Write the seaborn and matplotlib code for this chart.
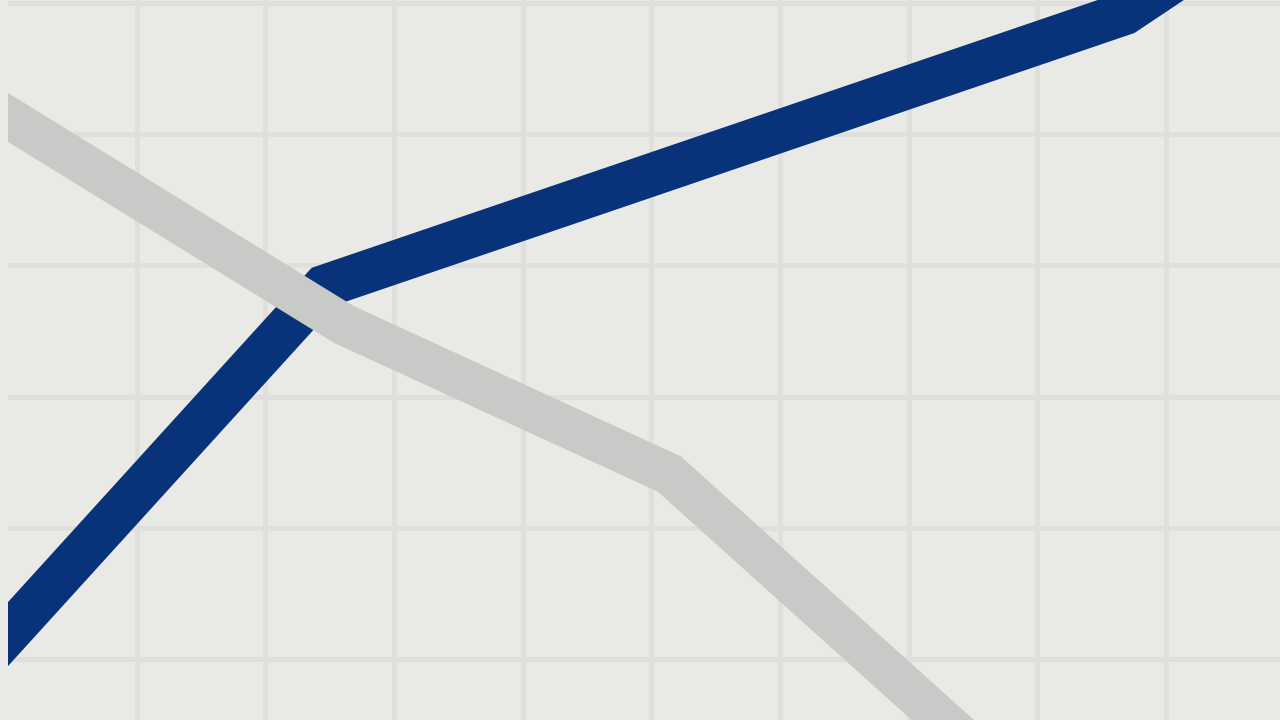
# Two thick trend lines on a plain grid, no labels
import numpy as np
import pandas as pd
import matplotlib
matplotlib.use("Agg")
import matplotlib.pyplot as plt
import matplotlib.patheffects as pe
import seaborn as sns

# Data (x in grid steps, y in units of 10 per grid row)
blue_x = [-0.5, 2.455, 8.68, 10.5]
blue_y = [-3.5, 28.4, 49.2, 61.1]
gray_x = [-0.5, 2.61, 5.14, 7.26, 8.0]
gray_y = [44.3, 25.5, 14.1, -4.6, -11.1]
x_ticks = list(range(1, 10))
y_ticks = [0, 10, 20, 30, 40, 50]

blue_df = pd.DataFrame({"x": blue_x, "y": blue_y})
gray_df = pd.DataFrame({"x": gray_x, "y": gray_y})


# agg cuts stroked lines at the canvas edge before stroking, which leaves
# a slanted butt end showing; passing an invisible face skips that cut
class NoEdgeCut(pe.AbstractPathEffect):
    def draw_path(self, renderer, gc, tpath, affine, rgbFace=None):
        renderer.draw_path(gc, tpath, affine, (0, 0, 0, 0.001))


sns.set_theme(style="whitegrid")
fig = plt.figure(figsize=(12.8, 7.2), dpi=100)
fig.patch.set_facecolor("#e9e9e5")
ax = fig.add_axes([8 / 1280, 0, 1 - 8 / 1280, 1])
ax.set_facecolor("#e9e9e5")

line_kw = dict(solid_joinstyle="miter", solid_capstyle="butt", sort=False)
sns.lineplot(data=blue_df, x="x", y="y", color="#08337a", linewidth=31, ax=ax, **line_kw)
sns.lineplot(data=gray_df, x="x", y="y", color="#c8cac8", linewidth=30, ax=ax, **line_kw)
for line in ax.lines:
    line.set_path_effects([NoEdgeCut()])

# Grid and limits
ax.set_xticks(x_ticks)
ax.set_yticks(y_ticks)
ax.set_xlim(0, 9.886)
ax.set_ylim(-4.65, 50.23)
ax.grid(True, color="#dfe0dd", linewidth=3.5)
ax.set_axisbelow(True)
ax.tick_params(left=False, bottom=False, labelleft=False, labelbottom=False)
ax.set_xlabel("")
ax.set_ylabel("")
for s in ax.spines.values():
    s.set_visible(False)

fig.savefig("out.png", dpi=100, facecolor=fig.get_facecolor())
